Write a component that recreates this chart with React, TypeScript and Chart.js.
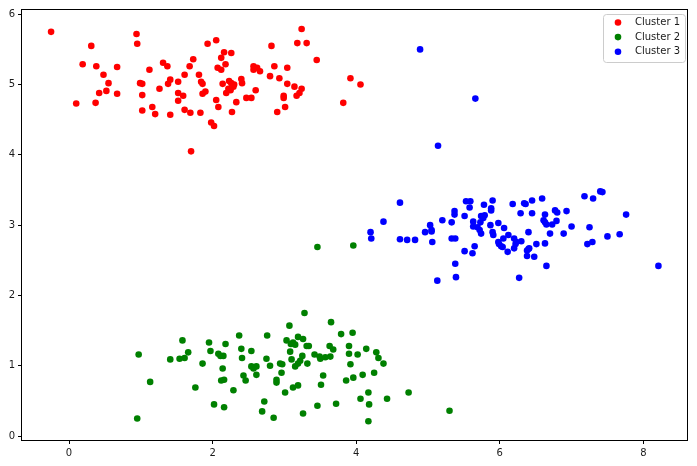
import { useEffect, useRef } from "react";
import { Chart, registerables } from "chart.js";

Chart.register(...registerables);

const xTicks = [0, 2, 4, 6, 8];
const yTicks = [0, 1, 2, 3, 4, 5, 6];
const clusterNames = ["Cluster 1", "Cluster 2", "Cluster 3"];
const clusterColors = ["#ff0000", "#008000", "#0000ff"];

const cluster1X = [
  -0.25, 0.31, 0.94, 0.95, 1.93, 0.19, 0.38, 0.67, 0.48, 0.55, 0.42, 0.52, 0.67, 0.10, 0.37,
  1.12, 0.99, 1.02, 1.02, 1.26, 1.31, 1.37, 1.41, 1.38, 1.52, 1.61, 1.68, 1.73, 1.81, 1.84,
  1.86, 1.52, 1.59, 1.52, 1.86, 1.90, 1.02, 1.16, 1.20, 1.41, 1.61, 1.69, 1.83, 1.70,
  3.24, 2.05, 2.82, 3.18, 3.31, 3.45, 2.16, 2.26, 2.12, 2.18, 2.07, 2.12, 1.98, 2.02, 2.14,
  2.23, 2.26, 2.30, 2.29, 2.22, 2.19, 2.25, 2.40, 2.41, 2.05, 2.08, 2.33, 2.27, 2.47, 2.54,
  2.60, 2.57, 2.57, 2.62, 2.66, 2.86, 3.04, 2.80, 2.93, 3.04, 3.14, 3.24, 3.21, 3.17, 2.99,
  2.99, 3.01, 2.90, 3.92, 4.06, 3.82,
];
const cluster1Y = [
  5.75, 5.55, 5.72, 5.58, 5.58, 5.29, 5.26, 5.25, 5.14, 5.02, 4.88, 4.91, 4.87, 4.73, 4.74,
  5.21, 5.02, 5.01, 4.85, 4.94, 5.31, 5.26, 5.07, 5.01, 5.04, 5.14, 5.26, 5.36, 5.14, 5.04,
  5.01, 4.88, 4.84, 4.77, 4.87, 4.90, 4.63, 4.68, 4.58, 4.57, 4.64, 4.60, 4.60, 4.05,
  5.79, 5.63, 5.55, 5.59, 5.59, 5.35, 5.46, 5.45, 5.38, 5.29, 5.24, 5.21, 4.46, 4.41, 5.01,
  5.05, 5.02, 5.00, 4.97, 4.94, 4.88, 4.92, 5.08, 5.02, 4.78, 4.68, 4.75, 4.61, 4.81, 4.81,
  4.92, 5.26, 5.21, 5.24, 5.19, 5.26, 5.24, 5.12, 5.09, 5.01, 4.97, 4.94, 4.88, 4.84, 4.84,
  4.81, 4.68, 4.61, 5.09, 5.00, 4.74,
];

const cluster2X = [
  0.97, 1.13, 0.95, 1.41, 1.54, 1.61, 1.58, 1.66, 1.76, 1.86, 1.95, 1.97, 2.18, 2.08, 2.11,
  2.15, 2.14, 2.12, 2.16, 2.02, 2.16, 2.29, 2.37, 2.40, 2.54, 2.41, 2.54, 2.57, 2.61, 2.43,
  2.46, 2.61, 2.75, 2.76, 2.80, 2.72, 2.69, 2.85, 2.89, 2.89, 2.94, 2.97, 2.96, 3.01, 3.03,
  3.07, 3.08, 3.10, 3.12, 3.15, 3.09, 3.19, 3.15, 3.12, 3.19,
  3.46, 3.96, 3.28, 3.65, 3.79, 3.95, 3.26, 3.31, 3.34, 3.63, 3.68, 3.90, 4.14, 3.42, 3.49,
  3.50, 3.57, 3.64, 3.90, 4.02, 4.28, 4.31, 4.38, 3.25, 3.22, 3.19, 3.32, 3.92, 3.54, 3.51,
  3.86, 3.96, 4.09, 4.25, 4.17, 4.06, 4.18, 4.43, 4.73, 3.72, 3.46, 3.26, 4.17, 5.30,
];
const cluster2Y = [
  1.16, 0.77, 0.25, 1.09, 1.10, 1.11, 1.36, 1.19, 0.69, 1.03, 1.33, 1.21, 1.31, 1.17, 1.14,
  1.14, 0.96, 0.79, 0.80, 0.45, 0.41, 0.65, 1.43, 1.24, 1.21, 1.11, 0.99, 0.96, 0.99, 0.86,
  0.79, 0.87, 1.10, 1.43, 1.00, 0.49, 0.35, 0.26, 0.80, 0.76, 1.03, 1.02, 0.90, 0.62, 1.36,
  1.57, 1.20, 1.09, 1.33, 1.30, 1.31, 1.41, 0.99, 0.69, 0.72,
  2.69, 2.71, 1.75, 1.62, 1.45, 1.47, 1.38, 1.28, 1.28, 1.28, 1.23, 1.28, 1.24, 1.16, 1.13,
  1.10, 1.12, 1.13, 1.17, 1.16, 1.19, 1.11, 1.03, 1.14, 1.07, 1.03, 1.03, 1.02, 0.86, 0.73,
  0.79, 0.83, 0.87, 0.90, 0.62, 0.53, 0.45, 0.53, 0.62, 0.46, 0.43, 0.32, 0.21, 0.36,
];

const cluster3X = [
  4.20, 4.21, 4.61, 4.71, 4.82, 4.96, 5.05, 5.06, 5.33, 5.38, 5.38, 5.39, 5.13, 4.89, 5.66,
  5.14, 4.38, 4.61, 5.03, 5.05, 5.20, 5.37, 5.37, 5.33, 5.51, 5.51, 5.53, 5.59, 5.58, 5.62,
  5.65, 5.63, 5.63, 5.69, 5.72, 5.74, 5.77, 5.73, 5.79, 5.74, 5.78, 5.90, 5.88, 5.88, 5.87,
  5.90, 5.91, 5.98, 6.06, 6.12, 6.05, 5.98, 5.99, 6.02, 6.04, 6.11, 6.18, 6.29, 6.34, 6.36,
  6.20, 6.23, 6.22, 6.20, 6.30, 6.27, 6.40, 6.40, 6.38,
  6.45, 6.59, 6.45, 6.63, 6.77, 6.80, 6.93, 6.61, 6.63, 6.65, 6.73, 6.79, 7.00, 6.70, 6.89,
  6.51, 6.41, 6.38, 6.63, 6.48, 6.65, 7.18, 7.30, 7.40, 7.43, 7.25, 7.22, 7.29, 7.50, 7.67,
  7.76, 8.21,
];
const cluster3Y = [
  2.90, 2.81, 2.80, 2.79, 2.79, 2.90, 2.91, 2.76, 2.81, 2.81, 2.45, 2.26, 2.21, 5.50, 4.80,
  4.13, 3.05, 3.32, 3.00, 2.93, 3.07, 3.20, 3.15, 3.04, 3.13, 2.63, 3.34, 3.34, 3.25, 2.60,
  2.70, 3.05, 2.98, 2.97, 2.93, 3.13, 3.10, 3.04, 3.14, 2.88, 3.29, 3.35, 3.24, 3.21, 3.00,
  2.90, 2.86, 3.03, 2.96, 2.86, 2.81, 2.76, 2.73, 2.70, 2.69, 2.62, 3.30, 3.17, 3.31, 3.30,
  2.81, 2.76, 2.73, 2.67, 2.77, 2.25, 2.90, 2.66, 2.56,
  3.35, 3.38, 3.17, 3.15, 3.21, 3.18, 3.20, 3.07, 3.04, 3.01, 3.01, 3.06, 2.98, 2.88, 2.88,
  2.73, 2.67, 2.64, 2.74, 2.55, 2.42, 3.41, 3.38, 3.48, 3.47, 2.97, 2.73, 2.76, 2.84, 2.87,
  3.15, 2.42,
];

const FONT = "'DejaVu Sans', sans-serif";
const TEXT_COLOR = "#1a1a1a";

export default function App() {
  const ref = useRef<HTMLCanvasElement | null>(null);

  useEffect(() => {
    if (!ref.current) return;
    const toPts = (xs: number[], ys: number[]) => xs.map((x, i) => ({ x, y: ys[i] }));
    const xsAll = [cluster1X, cluster2X, cluster3X];
    const ysAll = [cluster1Y, cluster2Y, cluster3Y];

    const framePlugin = {
      id: "frame",
      afterDatasetsDraw(chart: any) {
        const { ctx, chartArea } = chart;
        ctx.save();
        ctx.strokeStyle = "#000";
        ctx.lineWidth = 1;
        const l = Math.round(chartArea.left) + 0.5;
        const t = Math.round(chartArea.top) + 0.5;
        const r = Math.round(chartArea.right) - 0.5;
        const b = Math.round(chartArea.bottom) - 0.5;
        ctx.strokeRect(l, t, r - l, b - t);
        ctx.restore();
      },
    };

    const legendPlugin = {
      id: "customLegend",
      afterDraw(chart: any) {
        const { ctx, chartArea } = chart;
        const w = 82;
        const h = 48;
        const x0 = chartArea.right - 3 - w;
        const y0 = chartArea.top + 5;
        ctx.save();
        ctx.fillStyle = "rgba(255,255,255,0.8)";
        ctx.strokeStyle = "#cccccc";
        ctx.lineWidth = 1;
        ctx.beginPath();
        if ((ctx as any).roundRect) (ctx as any).roundRect(x0 + 0.5, y0 + 0.5, w, h, 3);
        else ctx.rect(x0 + 0.5, y0 + 0.5, w, h);
        ctx.fill();
        ctx.stroke();
        ctx.font = `10px ${FONT}`;
        ctx.textBaseline = "middle";
        ctx.textAlign = "left";
        clusterNames.forEach((name, i) => {
          const cy = y0 + 8.5 + i * 14.6;
          ctx.fillStyle = clusterColors[i];
          ctx.beginPath();
          ctx.arc(x0 + 15, cy, 3.3, 0, Math.PI * 2);
          ctx.fill();
          ctx.fillStyle = TEXT_COLOR;
          ctx.fillText(name, x0 + 32, cy);
        });
        ctx.restore();
      },
    };

    const axisCommon = {
      type: "linear" as const,
      grid: {
        display: true,
        drawOnChartArea: false,
        drawTicks: true,
        tickLength: 3,
        color: "#000",
        lineWidth: 1,
      },
      border: { display: false },
    };

    const chart = new Chart(ref.current, {
      type: "scatter",
      data: {
        datasets: clusterNames.map((name, i) => ({
          label: name,
          data: toPts(xsAll[i], ysAll[i]),
          backgroundColor: clusterColors[i],
          borderColor: clusterColors[i],
          borderWidth: 0,
          pointRadius: 3.3,
          pointHoverRadius: 3.3,
        })),
      },
      options: {
        animation: false,
        responsive: false,
        events: [],
        layout: { padding: { top: 7, right: 9, left: 0, bottom: 0 } },
        plugins: {
          legend: { display: false },
          tooltip: { enabled: false },
        },
        scales: {
          x: {
            ...axisCommon,
            min: -0.669,
            max: 8.622,
            afterBuildTicks: (s: any) => {
              s.ticks = xTicks.map((v) => ({ value: v }));
            },
            afterFit: (s: any) => {
              s.height = 25;
            },
            ticks: {
              font: { family: FONT, size: 10 },
              color: TEXT_COLOR,
              padding: 3,
              maxRotation: 0,
              autoSkip: false,
            },
          },
          y: {
            ...axisCommon,
            min: -0.071,
            max: 6.075,
            afterBuildTicks: (s: any) => {
              s.ticks = yTicks.map((v) => ({ value: v }));
            },
            afterFit: (s: any) => {
              s.width = 21;
            },
            ticks: {
              font: { family: FONT, size: 10 },
              color: TEXT_COLOR,
              padding: 3,
              autoSkip: false,
            },
          },
        },
      },
      plugins: [framePlugin, legendPlugin],
    } as any);

    return () => chart.destroy();
  }, []);

  return (
    <div
      style={{
        position: "absolute",
        left: 0,
        top: 0,
        width: 697,
        height: 466,
        background: "#fff",
      }}
    >
      <canvas ref={ref} width={697} height={466} style={{ display: "block" }} />
    </div>
  );
}
